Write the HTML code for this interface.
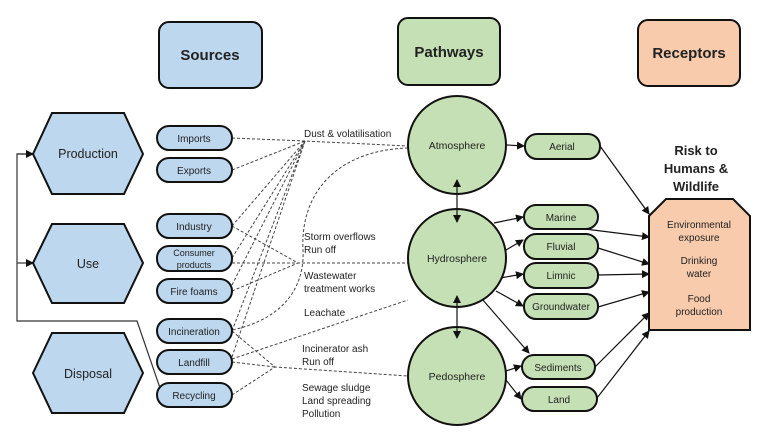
<!DOCTYPE html>
<html><head><meta charset="utf-8"><style>
html,body{margin:0;padding:0;background:#fff;width:768px;height:440px;overflow:hidden}
text{font-family:"Liberation Sans",Arial,sans-serif;fill:#222}
</style></head><body>
<svg width="768" height="440" viewBox="0 0 768 440" xmlns="http://www.w3.org/2000/svg">
<defs>
<marker id="a" markerWidth="8" markerHeight="8" refX="7" refY="4" orient="auto" markerUnits="userSpaceOnUse"><path d="M0,0 L8,4 L0,8 z" fill="#111"/></marker>
<marker id="b" markerWidth="8" markerHeight="8" refX="1" refY="4" orient="auto" markerUnits="userSpaceOnUse"><path d="M8,0 L0,4 L8,8 z" fill="#111"/></marker>
</defs>
<g stroke="#111" stroke-width="2">
<rect x="159" y="22" width="103" height="66" rx="10" fill="#bdd7ee"/>
<rect x="398" y="18" width="102" height="67" rx="10" fill="#c5e0b4"/>
<rect x="638" y="20" width="102" height="66" rx="10" fill="#f8cbad"/>
</g>
<g font-weight="bold" font-size="15" text-anchor="middle">
<text x="210" y="60">Sources</text>
<text x="449" y="57">Pathways</text>
<text x="689" y="58">Receptors</text>
</g>
<g stroke="#444" stroke-width="1" stroke-dasharray="3,2" fill="none">
<path d="M232,138 L305,141 L408,146"/>
<path d="M232,170 L305,141"/>
<path d="M232,226 L305,141"/>
<path d="M232,258 L305,141"/>
<path d="M232,285 L305,141"/>
<path d="M232,331 L305,141"/>
<path d="M232,357 L305,141"/>
<path d="M408,148 C340,150 300,190 303,250 C305,290 280,320 232,330"/>
<path d="M232,263 L408,263"/>
<path d="M232,226 L298,263"/>
<path d="M232,291 L298,263"/>
<path d="M232,359 L408,300"/>
<path d="M232,331 L275,367 L408,376"/>
<path d="M232,362 L275,367"/>
<path d="M232,395 L275,367"/>
</g>
<g stroke="#333" stroke-width="1.2" fill="none">
<path d="M33,154 L17,154 L17,321 L137,321 L160,388"/>
<path d="M17,154 L33,154" marker-end="url(#a)"/>
<path d="M17,263 L33,263" marker-end="url(#a)"/>
</g>
<g stroke="#111" stroke-width="2" fill="#bdd7ee">
<polygon points="33,154 52,113 124,113 143,154 124,194 52,194"/>
<polygon points="33,263 52,224 124,224 143,263 124,303 52,303"/>
<polygon points="33,373 52,333 124,333 143,373 124,413 52,413"/>
</g>
<g font-size="12.5" text-anchor="middle">
<text x="88" y="158">Production</text>
<text x="88" y="268">Use</text>
<text x="88" y="378">Disposal</text>
</g>
<g stroke="#111" stroke-width="2" fill="#bdd7ee">
<rect x="157" y="126" width="75" height="24" rx="12"/>
<rect x="157" y="158" width="75" height="24" rx="12"/>
<rect x="157" y="214" width="75" height="24" rx="12"/>
<rect x="157" y="246" width="75" height="25" rx="12"/>
<rect x="157" y="279" width="75" height="24" rx="12"/>
<rect x="157" y="319" width="75" height="24" rx="12"/>
<rect x="157" y="350" width="75" height="24" rx="12"/>
<rect x="157" y="383" width="75" height="24" rx="12"/>
</g>
<g font-size="10" text-anchor="middle">
<text x="194" y="142">Imports</text>
<text x="194" y="174">Exports</text>
<text x="194" y="230">Industry</text>
<text x="194" y="256" font-size="9">Consumer</text>
<text x="194" y="268" font-size="9">products</text>
<text x="194" y="295">Fire foams</text>
<text x="194" y="335">Incineration</text>
<text x="194" y="366">Landfill</text>
<text x="194" y="399">Recycling</text>
</g>
<g font-size="10">
<text x="304" y="137">Dust &amp; volatilisation</text>
<text x="304" y="240">Storm overflows</text>
<text x="304" y="253">Run off</text>
<text x="304" y="279">Wastewater</text>
<text x="304" y="292">treatment works</text>
<text x="304" y="316">Leachate</text>
<text x="302" y="352">Incinerator ash</text>
<text x="302" y="365">Run off</text>
<text x="302" y="391">Sewage sludge</text>
<text x="302" y="404">Land spreading</text>
<text x="302" y="417">Pollution</text>
</g>
<g stroke="#111" stroke-width="1.2" fill="none">
<path d="M507,145 L524,146" marker-end="url(#a)"/>
<path d="M494,223 L523,217" marker-end="url(#a)"/>
<path d="M506,250 L523,240" marker-end="url(#a)"/>
<path d="M500,278 L523,274" marker-end="url(#a)"/>
<path d="M496,291 L523,306" marker-end="url(#a)"/>
<path d="M482,299 L529,353" marker-end="url(#a)"/>
<path d="M506,371 L521,366" marker-end="url(#a)"/>
<path d="M506,380 L521,399" marker-end="url(#a)"/>
<path d="M600,146 L649,214" marker-end="url(#a)"/>
<path d="M585,229 L649,237" marker-end="url(#a)"/>
<path d="M598,248 L649,264" marker-end="url(#a)"/>
<path d="M598,275 L649,274" marker-end="url(#a)"/>
<path d="M598,307 L649,292" marker-end="url(#a)"/>
<path d="M595,367 L649,313" marker-end="url(#a)"/>
<path d="M597,398 L649,331" marker-end="url(#a)"/>
</g>
<g stroke="#111" stroke-width="2" fill="#c5e0b4">
<circle cx="457" cy="145" r="49"/>
<circle cx="457" cy="258" r="49"/>
<circle cx="457" cy="376" r="49"/>
</g>
<g stroke="#111" stroke-width="1.2" fill="none">
<path d="M457,180 L457,222" marker-end="url(#a)" marker-start="url(#b)"/>
<path d="M457,296 L457,338" marker-end="url(#a)" marker-start="url(#b)"/>
</g>
<g font-size="10.5" text-anchor="middle">
<text x="457" y="149">Atmosphere</text>
<text x="457" y="262">Hydrosphere</text>
<text x="457" y="380">Pedosphere</text>
</g>
<g stroke="#111" stroke-width="2" fill="#c5e0b4">
<rect x="525" y="134" width="75" height="25" rx="12"/>
<rect x="524" y="205" width="74" height="24" rx="12"/>
<rect x="524" y="234" width="74" height="25" rx="12"/>
<rect x="524" y="263" width="74" height="25" rx="12"/>
<rect x="524" y="294" width="74" height="25" rx="12"/>
<rect x="522" y="355" width="73" height="24" rx="12"/>
<rect x="522" y="387" width="75" height="24" rx="12"/>
</g>
<g font-size="10" text-anchor="middle">
<text x="562" y="150">Aerial</text>
<text x="561" y="221">Marine</text>
<text x="561" y="250">Fluvial</text>
<text x="561" y="279">Limnic</text>
<text x="561" y="310">Groundwater</text>
<text x="558" y="371">Sediments</text>
<text x="559" y="403">Land</text>
</g>
<polygon points="649,216 666,199 733,199 750,216 750,330 649,330" fill="#f8cbad" stroke="#111" stroke-width="2"/>
<g font-size="10" text-anchor="middle">
<text x="699" y="228">Environmental</text>
<text x="699" y="241">exposure</text>
<text x="699" y="264">Drinking</text>
<text x="699" y="277">water</text>
<text x="699" y="302">Food</text>
<text x="699" y="315">production</text>
</g>
<g font-size="13" font-weight="bold" text-anchor="middle">
<text x="696" y="155">Risk to</text>
<text x="696" y="173">Humans &amp;</text>
<text x="696" y="191">Wildlife</text>
</g>
</svg>
</body></html>
